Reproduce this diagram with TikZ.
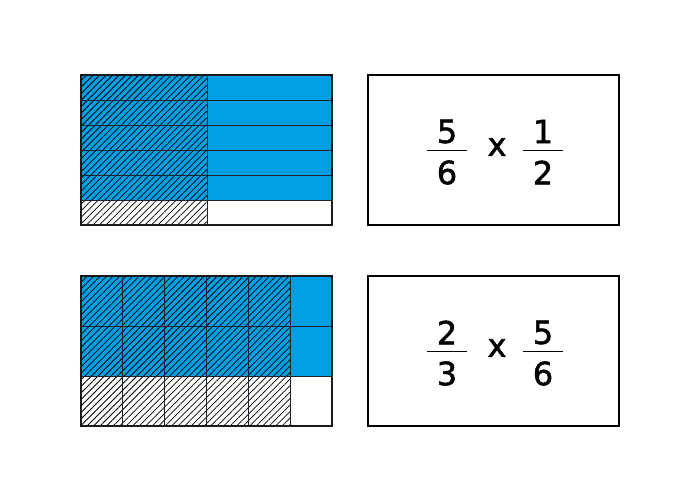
\documentclass[tikz,border=0pt]{standalone}
\usepackage{fontspec}
\setmainfont{DejaVu Sans}
\newfontfamily\digfont[FakeBold=1.6]{DejaVu Sans}
\usetikzlibrary{patterns.meta}
\definecolor{fillblue}{RGB}{0,158,226}
\definecolor{gridline}{RGB}{25,35,45}
\tikzset{
  bluefill/.style={fill=fillblue, draw=none},
  hatch/.style={pattern={Lines[angle=45,distance=4.6pt,line width=0.75pt]}, pattern color=black},
  gridl/.style={draw=gridline, line width=0.9pt},
  outer/.style={draw=black!90, line width=1.3pt},
  card/.style={draw=black, line width=1.3pt},
  digit/.style={inner sep=0pt, font=\digfont\fontsize{32}{32}\selectfont},
  fbar/.style={draw=black, line width=0.9pt},
}
\begin{document}
\begin{tikzpicture}[x=1pt,y=-1pt]
\useasboundingbox[fill=white] (0,0) rectangle (700,500);
% ---- top-left: 5/6 x 1/2
\fill[bluefill] (81,75) rectangle (332,200);
\fill[hatch] (81,75) rectangle (207,225);
\foreach \yy in {100,125,150,175,200} \draw[gridl] (81,\yy) -- (332,\yy);
\draw[gridl] (207,75) -- (207,225);
\draw[outer] (81,75) rectangle (332,225);
% ---- bottom-left: 2/3 x 5/6
\fill[bluefill] (81,276) rectangle (332,376);
\fill[hatch] (81,276) rectangle (290.2,426);
\foreach \yy in {326,376} \draw[gridl] (81,\yy) -- (332,\yy);
\foreach \k in {1,...,5} \draw[gridl] ({81+\k*41.83},276) -- ({81+\k*41.83},426);
\draw[outer] (81,276) rectangle (332,426);
% ---- cards
\node[card, minimum width=251pt, minimum height=150pt, inner sep=0pt] (c1) at (493.5,150) {};
\node[card, minimum width=251pt, minimum height=150pt, inner sep=0pt] (c2) at (493.5,351) {};
% fractions top
\node[digit] (n1) at (447,131.5) {5};
\node[digit] (d1) at (447,172.5) {6};
\coordinate (b1l) at (427,150); \coordinate (b1r) at (467,150);
\draw[fbar] (b1l) -- (b1r);
\node[digit] (x1) at (497,147) {x};
\node[digit] (n2) at (543,131.5) {1};
\node[digit] (d2) at (543,172.5) {2};
\coordinate (b2l) at (523,150); \coordinate (b2r) at (563,150);
\draw[fbar] (b2l) -- (b2r);
% fractions bottom
\node[digit] (n3) at (447,332.5) {2};
\node[digit] (d3) at (447,373.5) {3};
\coordinate (b3l) at (427,351); \coordinate (b3r) at (467,351);
\draw[fbar] (b3l) -- (b3r);
\node[digit] (x2) at (497,348) {x};
\node[digit] (n4) at (543,332.5) {5};
\node[digit] (d4) at (543,373.5) {6};
\coordinate (b4l) at (523,351); \coordinate (b4r) at (563,351);
\draw[fbar] (b4l) -- (b4r);
\end{tikzpicture}
\end{document}
